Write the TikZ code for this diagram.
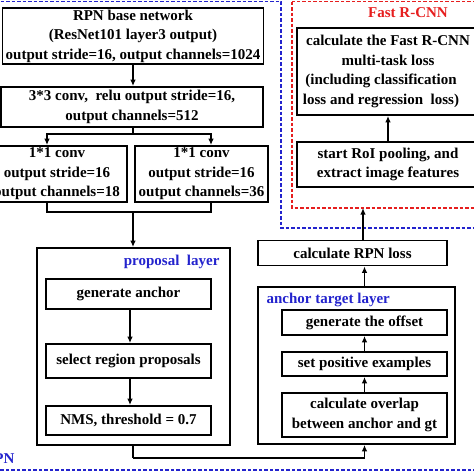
\documentclass[tikz,border=0pt]{standalone}
\usepackage{fontspec}
\setmainfont{Liberation Serif}
\usetikzlibrary{arrows.meta,calc}
\definecolor{rpnblue}{RGB}{35,35,205}
\definecolor{frred}{RGB}{230,30,30}
\begin{document}
\begin{tikzpicture}[x=1pt,y=-1pt,
    box/.style={draw,line width=1.8pt,align=center,inner sep=0pt,
      font=\bfseries\fontsize{15}{19.5}\selectfont},
    lbl/.style={font=\bfseries\fontsize{15}{19.5}\selectfont},
    ln/.style={line width=1.8pt},
    arr/.style={line width=1.8pt,-{Latex[length=6.5pt,width=5.5pt]}},
    frame/.style={line width=1.7pt,dash pattern=on 3.5pt off 2pt}]
  \useasboundingbox (0,0) rectangle (474,474);
  \clip (0,0) rectangle (474,474);
  \draw [frame,rpnblue] (-5,1.5) -- (281,1.5) -- (281,228) -- (480,228) -- (480,470) -- (-5,470) -- cycle;
  \draw [frame,frred] (292,1.5) rectangle (480,208);
  \node [lbl,text=rpnblue,anchor=east] (rpnlbl) at (18,459) {RPN};
  \node [lbl,text=frred] (frlbl) at (408,13) {Fast R-CNN};

  \node [box,minimum width=261pt,minimum height=56pt] (base) at (133,36)
    {RPN base network\\(ResNet101 layer3 output)\\output stride=16, output channels=1024};
  \node [box,minimum width=262pt,minimum height=40pt] (conv) at (132,107)
    {3*3 conv,\ \ relu output stride=16,\\output channels=512};
  \node [box,minimum width=140pt,minimum height=56pt] (cls) at (57,174)
    {1*1 conv\\output stride=16\\output channels=18};
  \node [box,minimum width=133pt,minimum height=56pt] (reg) at (201.5,174)
    {1*1 conv\\output stride=16\\output channels=36};

  \node [box,minimum width=193pt,minimum height=197pt] (prop) at (133.5,346.5) {};
  \node [lbl,text=rpnblue,anchor=east] (proplbl) at (223,262) {proposal\ \ layer};
  \node [box,minimum width=165pt,minimum height=30pt] (anc) at (128.5,294) {generate anchor};
  \node [box,minimum width=165pt,minimum height=34pt] (sel) at (128.5,361) {select region proposals};
  \node [box,minimum width=165pt,minimum height=29pt] (nms) at (128.5,420.5) {NMS, threshold = 0.7};

  \node [box,minimum width=189pt,minimum height=25pt] (rpnloss) at (352.5,253) {calculate RPN loss};
  \node [box,minimum width=197pt,minimum height=157pt] (atl) at (356.5,365.5) {};
  \node [lbl,text=rpnblue,anchor=west] (atllbl) at (263,300) {anchor target layer};
  \node [box,minimum width=165pt,minimum height=25pt] (offset) at (364.5,322.5) {generate the offset};
  \node [box,minimum width=165pt,minimum height=24pt] (pos) at (364.5,364) {set positive examples};
  \node [box,minimum width=165pt,minimum height=44pt] (iou) at (364.5,415)
    {calculate overlap\\between anchor and gt};

  \node [box,minimum width=182pt,minimum height=87pt] (frloss) at (388,71.5)
    {calculate the Fast R-CNN\\multi-task loss\\(including classification\hspace*{14pt}\null\\loss and regression\ \ loss)\hspace*{14pt}\null};
  \node [box,minimum width=182pt,minimum height=45pt] (roi) at (388,164.5)
    {start RoI pooling, and\\extract image features};

  \coordinate (split) at (133,134);
  \coordinate (merge) at (133,212);
  \coordinate (l) at (47,0);
  \coordinate (r) at (211,0);
  \coordinate (pl) at (130,0);
  \coordinate (bend) at (133,458);
  \coordinate (frbot) at (363,208);
  \draw [arr] (base.south) -- (base.south |- conv.north);
  \draw [ln] (split |- conv.south) -- (split);
  \draw [arr] (split) -| (l |- cls.north);
  \draw [arr] (split) -| (r |- reg.north);
  \draw [ln] (l |- cls.south) |- (merge) -| (r |- reg.south);
  \draw [arr] (merge) -- (merge |- prop.north);
  \foreach \a/\b in {anc/sel,sel/nms}
  {
    \draw [arr] (pl |- \a.south) -- (pl |- \b.north);
  }
  \foreach \a/\b in {iou/pos,pos/offset}
  {
    \draw [arr] (\a.north) -- (\b.south);
  }
  \draw [ln] (bend |- prop.south) -- (bend);
  \draw [arr] (bend) -| (offset.center |- atl.south);
  \draw [arr] (offset.center |- atl.north) -- (offset.center |- rpnloss.south);
  \draw [arr] (frbot |- rpnloss.north) -- (frbot);
  \draw [arr] (roi) -- (frloss);
\end{tikzpicture}
\end{document}
